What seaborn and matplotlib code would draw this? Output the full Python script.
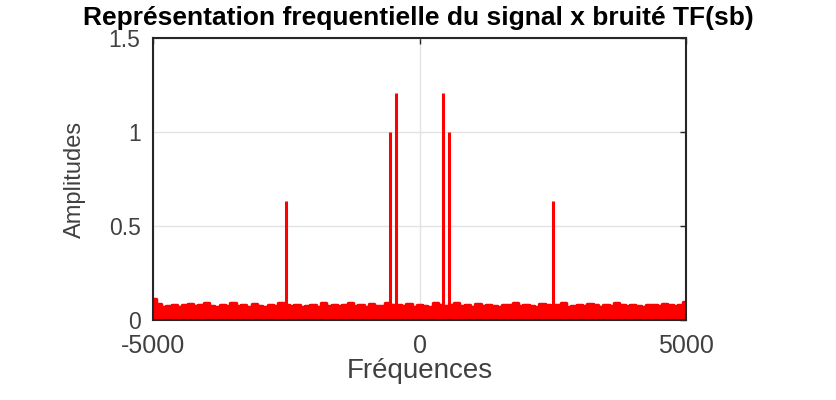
import numpy as np
import pandas as pd
import matplotlib
matplotlib.use("Agg")
import matplotlib.pyplot as plt
import seaborn as sns

# Data

peak_freq = [-2500, -555, -445, 445, 555, 2500]
peak_amp = [0.635, 1.0, 1.21, 1.21, 1.0, 0.635]

noise_freq = list(range(-5000, 5001, 100))
noise_amp = [
    0.11, 0.085, 0.07, 0.075, 0.08, 0.07, 0.078, 0.085, 0.072, 0.08,
    0.088, 0.074, 0.07, 0.082, 0.076, 0.09, 0.072, 0.078, 0.07, 0.084,
    0.075, 0.068, 0.08, 0.074, 0.09, 0.078, 0.072, 0.08, 0.07, 0.076,
    0.082, 0.07, 0.088, 0.075, 0.08, 0.072, 0.078, 0.092, 0.074, 0.08,
    0.07, 0.085, 0.076, 0.072, 0.09, 0.078, 0.08, 0.072, 0.085, 0.07,
    0.082,
    0.075, 0.07, 0.088, 0.078, 0.072, 0.08, 0.09, 0.074, 0.078, 0.07,
    0.085, 0.072, 0.08, 0.076, 0.07, 0.082, 0.078, 0.09, 0.072, 0.08,
    0.074, 0.07, 0.086, 0.078, 0.072, 0.08, 0.088, 0.07, 0.076, 0.08,
    0.072, 0.085, 0.078, 0.07, 0.08, 0.074, 0.088, 0.078, 0.072, 0.08,
    0.076, 0.07, 0.082, 0.078, 0.074, 0.085, 0.08, 0.076, 0.082, 0.095,
]

x_ticks = [-5000, 0, 5000]
x_labels = ["-5000", "0", "5000"]
y_ticks = [0, 0.5, 1, 1.5]
y_labels = ["0", "0.5", "1", "1.5"]

df_noise = pd.DataFrame({"f": noise_freq, "amp": noise_amp})

# Style

sns.set_theme(style="white")
plt.rcParams["font.family"] = ["Liberation Sans", "DejaVu Sans"]
plt.rcParams["axes.unicode_minus"] = False

dark = "#262626"
grey = "#404040"
red = "#ff0000"

fig = plt.figure(figsize=(8.37, 4), dpi=100)
ax = fig.add_axes([0.1828, 0.2, 0.6368, 0.705])

# Noise floor

ax.fill_between(df_noise["f"], 0, df_noise["amp"], step="mid", color=red, lw=0)
sns.lineplot(data=df_noise, x="f", y="amp", ax=ax, color=red, lw=2.5,
             drawstyle="steps-mid")

# Peaks

ax.vlines(peak_freq, 0, peak_amp, color=red, lw=2.2)

ax.set_xlim(-5000, 5000)
ax.set_ylim(0, 1.5)
ax.set_xticks(x_ticks)
ax.set_xticklabels(x_labels)
ax.set_yticks(y_ticks)
ax.set_yticklabels(y_labels)

ax.grid(True, color="#e3e3e3", lw=1)
ax.set_axisbelow(True)

for s in ax.spines.values():
    s.set_color(dark)
    s.set_linewidth(1.5)
    s.set_zorder(5)

ax.tick_params(direction="in", length=4, width=1, color=dark,
               top=True, right=True, labelcolor=grey)
ax.tick_params(axis="x", pad=10, labelsize=18)
ax.tick_params(axis="y", pad=9, labelsize=16.5)

ax.set_xlabel("Fréquences", fontsize=20, color=grey)
ax.xaxis.set_label_coords(0.5, -0.135)
ax.set_ylabel("Amplitudes", fontsize=17, color=grey)
ax.yaxis.set_label_coords(-0.125, 0.5)

fig.text(0.5, 1 - 25.5 / 400, "Représentation frequentielle du signal x bruité TF(sb)",
         fontsize=19, fontweight="bold", color="black",
         ha="center", va="baseline")

plt.savefig("out.png", dpi=100)
plt.close()
